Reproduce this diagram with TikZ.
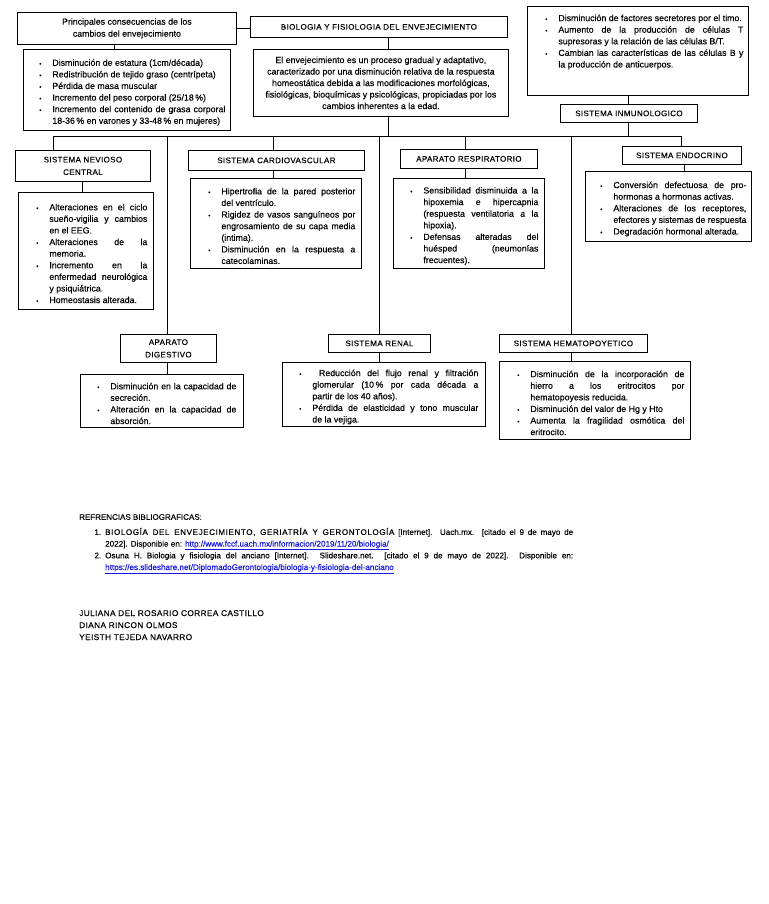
\documentclass[tikz,border=0pt]{standalone}
\usepackage{fontspec}
\setmainfont[FakeBold=0.2]{Liberation Sans}
\newfontfamily\hdrfont[LetterSpace=4.5,FakeBold=0.2]{Liberation Sans}
\definecolor{lnk}{RGB}{20,20,230}
\newcommand{\lnkurl}[1]{{\color{lnk}\underline{#1}}}
\newenvironment{blist}[1]{\begin{list}{{\fontsize{6}{6}\selectfont\textbullet}}{\setlength{\leftmargin}{#1}\setlength{\labelsep}{11pt}\setlength{\labelwidth}{3pt}\setlength{\itemsep}{0pt}\setlength{\parsep}{0pt}\setlength{\topsep}{0pt}\setlength{\partopsep}{0pt}\setlength{\itemindent}{0pt}}}{\end{list}}
\tikzset{
 box/.style={draw=black, line width=0.8pt, rectangle, anchor=north west, inner sep=0pt},
 tbox/.style={box, align=center, font=\fontsize{8.8}{11.6}\selectfont},
 hbox/.style={box, align=center, font=\hdrfont\fontsize{8}{12.5}\selectfont},
 bul/.style={box, align=justify, inner ysep=2pt, font=\fontsize{8.8}{11.6}\selectfont},
 ln/.style={line width=0.8pt, draw=black}
}
\begin{document}
\begin{tikzpicture}[x=1pt,y=-1pt]
\fill[white] (0,0) rectangle (768,904);
\path[use as bounding box] (0,0) rectangle (768,904);
% top row
\node[tbox, minimum width=219pt, minimum height=32pt, font=\fontsize{8.8}{12}\selectfont] (prin) at (17,12) {Principales consecuencias de los\\cambios del envejecimiento};
\node[hbox, minimum width=257pt, minimum height=21pt] (biol) at (250,16) {BIOLOGIA Y FISIOLOGIA DEL ENVEJECIMIENTO};
\node[bul, text width=197pt, inner xsep=5pt, minimum height=81pt] (cons) at (23,49) {\begin{blist}{24pt}
\item Disminución de estatura (1cm/década)
\item Redistribución de tejido graso (centrípeta)
\item Pérdida de masa muscular
\item Incremento del peso corporal (25/18\,\%)
\item Incremento del contenido de grasa corporal\linebreak 18-36\,\% en varones y 33-48\,\% en mujeres)
\end{blist}};
\node[tbox, minimum width=255pt, minimum height=67pt, font=\fontsize{8.8}{11.5}\selectfont] (desc) at (253,49) {El envejecimiento es un proceso gradual y adaptativo,\\caracterizado por una disminución relativa de la respuesta\\homeostática debida a las modificaciones morfológicas,\\fisiológicas, bioquímicas y psicológicas, propiciadas por los\\cambios inherentes a la edad.};
\node[bul, text width=211pt, inner xsep=5pt, minimum height=89pt] (imm) at (527,6) {\begin{blist}{26pt}
\item Disminución de factores secretores por el timo.
\item Aumento de la producción de células T\linebreak supresoras y la relación de las células B/T.
\item Cambian las características de las células B y\linebreak la producción de anticuerpos.
\end{blist}\par\rule{0pt}{22pt}};
\node[hbox, minimum width=137pt, minimum height=18pt] (inmu) at (560,104) {SISTEMA INMUNOLOGICO};
% middle row
\node[hbox, minimum width=135pt, minimum height=31pt] (nerv) at (15,150) {SISTEMA NEVIOSO\\CENTRAL};
\node[bul, text width=123pt, inner xsep=6pt, minimum height=117pt] (nbul) at (18,192) {\begin{blist}{25pt}
\item Alteraciones en el ciclo\linebreak sueño-vigilia y cambios\linebreak en el EEG.
\item Alteraciones de la\linebreak memoria.
\item Incremento en la\linebreak enfermedad neurológica\linebreak y psiquiátrica.
\item Homeostasis alterada.
\end{blist}};
\node[hbox, minimum width=176pt, minimum height=20pt] (card) at (188,150) {SISTEMA CARDIOVASCULAR};
\node[bul, text width=159pt, inner xsep=6pt, minimum height=90pt] (cbul) at (190,178) {\begin{blist}{25pt}
\item Hipertrofia de la pared posterior\linebreak del ventrículo.
\item Rigidez de vasos sanguíneos por\linebreak engrosamiento de su capa media\linebreak (intima).
\item Disminución en la respuesta a\linebreak catecolaminas.
\end{blist}};
\node[hbox, minimum width=137pt, minimum height=19pt] (resp) at (400,149) {APARATO RESPIRATORIO};
\node[bul, text width=139pt, inner xsep=6pt, minimum height=90pt] (rbul) at (393,178) {\begin{blist}{24pt}
\item Sensibilidad disminuida a la\linebreak hipoxemia e hipercapnia\linebreak (respuesta ventilatoria a la\linebreak hipoxia).
\item Defensas alteradas del\linebreak huésped (neumonías\linebreak frecuentes).
\end{blist}};
\node[hbox, minimum width=119pt, minimum height=18pt] (endo) at (622,146) {SISTEMA ENDOCRINO};
\node[bul, text width=156pt, inner xsep=5pt, minimum height=70pt] (ebul) at (585,171) {\begin{blist}{23pt}
\item Conversión defectuosa de pro-\linebreak hormonas a hormonas activas.
\item Alteraciones de los receptores,\linebreak efectores y sistemas de respuesta
\item Degradación hormonal alterada.
\end{blist}};
% bottom row
\node[hbox, minimum width=96pt, minimum height=28pt] (dig) at (120,334) {APARATO\\DIGESTIVO};
\node[bul, text width=149pt, inner xsep=7pt, minimum height=53pt] (dbul) at (80,374) {\begin{blist}{23pt}
\item Disminución en la capacidad de\linebreak secreción.
\item Alteración en la capacidad de\linebreak absorción.
\end{blist}};
\node[hbox, minimum width=102pt, minimum height=18pt] (ren) at (328,334) {SISTEMA RENAL};
\node[bul, text width=189pt, inner xsep=7pt, minimum height=64pt] (renb) at (282,362) {\begin{blist}{23pt}
\item \ Reducción del flujo renal y filtración\linebreak glomerular (10\,\% por cada década a\linebreak partir de los 40 años).
\item Pérdida de elasticidad y tono muscular\linebreak de la vejiga.
\end{blist}};
\node[hbox, minimum width=148pt, minimum height=18pt] (hem) at (499,334) {SISTEMA HEMATOPOYETICO};
\node[bul, text width=179pt, inner xsep=6pt, minimum height=78pt] (hbul) at (499,361) {\begin{blist}{25pt}
\item Disminución de la incorporación de\linebreak hierro a los eritrocitos por\linebreak hematopoyesis reducida.
\item Disminución del valor de Hg y Hto
\item Aumenta la fragilidad osmótica del\linebreak eritrocito.
\end{blist}};
% connectors
\coordinate (b1) at (53,136);
\coordinate (b2) at (167,136);
\coordinate (b3) at (273,136);
\coordinate (b4) at (379,136);
\coordinate (b5) at (388,136);
\coordinate (b6) at (465,136);
\coordinate (b7) at (571,136);
\coordinate (b8) at (628,136);
\coordinate (b9) at (681,136);
\coordinate (p1) at (114,0);
\coordinate (n1) at (82,0);
\coordinate (e1) at (684,0);
\draw[ln] (b1) -- (b9);
\draw[ln] (prin.east) -- (prin.east -| biol.west);
\draw[ln] (p1 |- prin.south) -- (p1 |- cons.north);
\draw[ln] (b5 |- biol.south) -- (b5 |- desc.north);
\draw[ln] (b5 |- desc.south) -- (b5);
\draw[ln] (b8 |- imm.south) -- (b8 |- inmu.north);
\draw[ln] (b8 |- inmu.south) -- (b8);
\draw[ln] (b1) -- (b1 |- nerv.north);
\draw[ln] (n1 |- nerv.south) -- (n1 |- nbul.north);
\draw[ln] (b2) -- (b2 |- dig.north);
\draw[ln] (b2 |- dig.south) -- (b2 |- dbul.north);
\draw[ln] (b3) -- (b3 |- card.north);
\draw[ln] (b3 |- card.south) -- (b3 |- cbul.north);
\draw[ln] (b4) -- (b4 |- ren.north);
\draw[ln] (b4 |- ren.south) -- (b4 |- renb.north);
\draw[ln] (b6) -- (b6 |- resp.north);
\draw[ln] (b6 |- resp.south) -- (b6 |- rbul.north);
\draw[ln] (b7) -- (b7 |- hem.north);
\draw[ln] (b7 |- hem.south) -- (b7 |- hbul.north);
\draw[ln] (b9) -- (b9 |- endo.north);
\draw[ln] (e1 |- endo.south) -- (e1 |- ebul.north);
% references
\node[anchor=north west, inner sep=0pt, font=\fontsize{8}{11.7}\selectfont] (refh) at (79,514) {REFRENCIAS BIBLIOGRAFICAS:};
\node[anchor=north west, inner sep=0pt, text width=481pt, align=justify, font=\fontsize{8.1}{11.7}\selectfont] (refs) at (92,523) {\begin{list}{}{\setlength{\leftmargin}{13pt}\setlength{\labelwidth}{9pt}\setlength{\labelsep}{4pt}\setlength{\itemsep}{0pt}\setlength{\parsep}{0pt}\setlength{\topsep}{0pt}\setlength{\partopsep}{0pt}}
\item[1.] {\hdrfont\addfontfeature{LetterSpace=7} BIOLOGÍA DEL ENVEJECIMIENTO, GERIATRÍA Y GERONTOLOGÍA} [Internet]. Uach.mx. [citado el 9 de mayo de\linebreak 2022]. Disponible en: \lnkurl{http://www.fccf.uach.mx/informacion/2019/11/20/biologia/}
\item[2.] Osuna H. Biologia y fisiologia del anciano [Internet]. Slideshare.net. [citado el 9 de mayo de 2022]. Disponible en:\linebreak \lnkurl{https://es.slideshare.net/DiplomadoGerontologia/biologia-y-fisiologia-del-anciano}
\end{list}};
\node[anchor=north west, inner sep=0pt, align=left, font=\hdrfont\fontsize{8.3}{12}\selectfont] (names) at (79,610) {JULIANA DEL ROSARIO CORREA CASTILLO\\DIANA RINCON OLMOS\\YEISTH TEJEDA NAVARRO};
\end{tikzpicture}
\end{document}
